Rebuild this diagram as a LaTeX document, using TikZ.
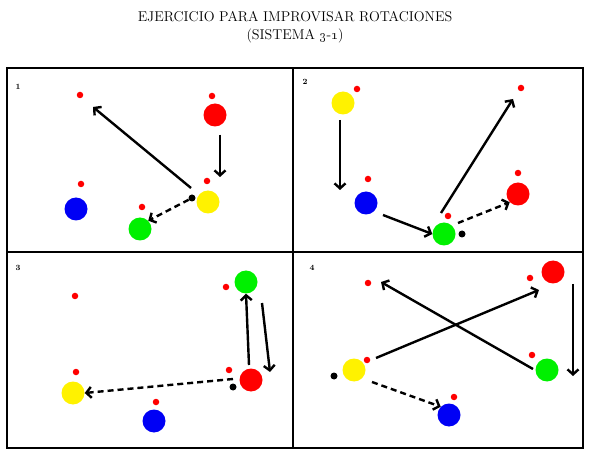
\documentclass[tikz,border=0pt]{standalone}
\usetikzlibrary{arrows.meta}
\definecolor{pred}{RGB}{255,0,0}
\definecolor{pyellow}{RGB}{255,242,0}
\definecolor{pgreen}{RGB}{0,240,0}
\definecolor{pblue}{RGB}{0,0,245}
\tikzset{
  player/.style={circle,inner sep=0pt,minimum size=23pt},
  cone/.style={circle,fill=pred,inner sep=0pt,minimum size=6.5pt},
  ball/.style={circle,fill=black,inner sep=0pt,minimum size=7pt},
  run/.style={line width=2.4pt,-{Straight Barb[length=5pt,width=11pt,line width=2.4pt]}},
  pass/.style={run,dash pattern=on 6pt off 4pt},
  num/.style={font=\fontsize{8}{8}\selectfont\bfseries}
}
\begin{document}
\begin{tikzpicture}[x=1pt,y=-1pt]
\useasboundingbox (0,0) rectangle (589,454);
% title
\node[font=\fontsize{14.2}{18}\selectfont,align=center] (title) at (295,27) {EJERCICIO PARA IMPROVISAR ROTACIONES\\(SISTEMA \oldstylenums{3}-\oldstylenums{1})};
% frames
\draw[line width=2.6pt] (7,68) rectangle (583,448);
\draw[line width=2pt] (293,68) -- (293,448);
\draw[line width=2pt] (7,252) -- (583,252);

% panel 1
\node[num] (n1) at (18,87) {1};
\node[cone] (c1a) at (80,95) {};
\node[cone] (c1b) at (212,96) {};
\node[player,fill=pred] (r1) at (215,115) {};
\node[cone] (c1c) at (207,181) {};
\node[player,fill=pyellow] (y1) at (208,202) {};
\node[ball] (b1) at (192,198) {};
\node[cone] (c1d) at (142,207) {};
\node[player,fill=pgreen] (g1) at (140,229) {};
\node[cone] (c1e) at (81,184) {};
\node[player,fill=pblue] (u1) at (76,209) {};
\coordinate (r1end) at (220,177);
\coordinate (y1end) at (93,107);
\draw[run] (r1.south -| r1end) ++(0,8) -- (r1end);
\draw[run] (191,188) -- (y1end);
\draw[pass] (b1) -- (g1.north east);

% panel 2
\node[num] (n2) at (305,82) {2};
\node[player,fill=pyellow] (y2) at (343,103) {};
\node[cone] (c2a) at (357,89) {};
\node[cone] (c2b) at (368,179) {};
\node[player,fill=pblue] (u2) at (366,203) {};
\node[cone] (c2c) at (448,216) {};
\node[player,fill=pgreen] (g2) at (444,234) {};
\node[ball] (b2) at (462,234) {};
\node[cone] (c2d) at (521,88) {};
\node[cone] (c2e) at (518,173) {};
\node[player,fill=pred] (r2) at (518,194) {};
\coordinate (y2end) at (340,190);
\coordinate (g2end) at (513,99);
\draw[run] (340,120) -- (y2end);
\draw[run] (383,215) -- (g2.west);
\draw[run] (441,213) -- (g2end);
\draw[pass] (458,223) -- (r2.south west);

% panel 3
\node[num] (n3) at (18,268) {3};
\node[cone] (c3a) at (75,296) {};
\node[player,fill=pgreen] (g3) at (246,282) {};
\node[cone] (c3b) at (226,287) {};
\node[cone] (c3c) at (229,370) {};
\node[player,fill=pred] (r3) at (251,380) {};
\node[ball] (b3) at (233,387) {};
\node[cone] (c3d) at (76,372) {};
\node[player,fill=pyellow] (y3) at (73,393) {};
\node[cone] (c3e) at (156,402) {};
\node[player,fill=pblue] (u3) at (154,421) {};
\coordinate (g3end) at (270,372);
\draw[run] (249,365) -- (g3.south);
\draw[run] (262,303) -- (g3end);
\draw[pass] (233,379) -- (y3.east);

% panel 4
\node[num] (n4) at (312,268) {4};
\node[cone] (c4a) at (368,283) {};
\node[player,fill=pred] (r4) at (553,272) {};
\node[cone] (c4b) at (530,278) {};
\node[cone] (c4c) at (532,355) {};
\node[player,fill=pgreen] (g4) at (547,370) {};
\node[cone] (c4d) at (367,360) {};
\node[player,fill=pyellow] (y4) at (354,370) {};
\node[ball] (b4) at (334,376) {};
\node[cone] (c4e) at (454,397) {};
\node[player,fill=pblue] (u4) at (449,415) {};
\coordinate (g4end) at (381,282);
\coordinate (y4end) at (539,290);
\coordinate (r4end) at (573,376);
\draw[run] (533,369) -- (g4end);
\draw[run] (376,358) -- (y4end);
\draw[run] (573,284) -- (r4end);
\draw[pass] (372,382) -- (u4.north west);
\end{tikzpicture}
\end{document}
